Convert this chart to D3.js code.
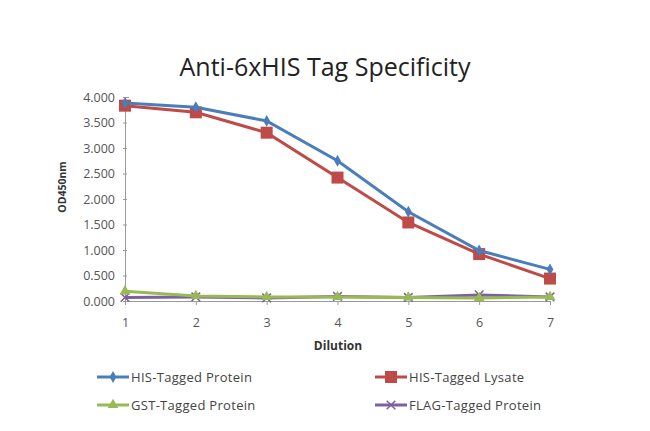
<!DOCTYPE html>
<html>
<head>
<meta charset="utf-8">
<script src="https://cdn.jsdelivr.net/npm/d3@7"></script>
<style>
  body { margin: 0; background: #fff; }
  svg { font-family: "Open Sans", "DejaVu Sans", sans-serif; }
</style>
</head>
<body>
<svg id="chart" width="650" height="431"></svg>
<script>
var dilutions = [1, 2, 3, 4, 5, 6, 7];
var hisProtein = [3.88, 3.80, 3.53, 2.75, 1.75, 0.99, 0.62];
var hisLysate = [3.83, 3.70, 3.30, 2.42, 1.54, 0.92, 0.44];
var gstProtein = [0.19, 0.10, 0.08, 0.08, 0.07, 0.06, 0.08];
var flagProtein = [0.07, 0.08, 0.06, 0.09, 0.07, 0.12, 0.08];
var yTicks = [0, 0.5, 1, 1.5, 2, 2.5, 3, 3.5, 4];

var series = [
  { name: "HIS-Tagged Protein", values: hisProtein, color: "#4a7ebb", marker: "diamond" },
  { name: "HIS-Tagged Lysate", values: hisLysate, color: "#be4b48", marker: "square" },
  { name: "GST-Tagged Protein", values: gstProtein, color: "#98b954", marker: "triangle" },
  { name: "FLAG-Tagged Protein", values: flagProtein, color: "#7d60a0", marker: "x" }
];

var svg = d3.select("#chart");
var x = d3.scaleLinear().domain([1, 7]).range([125, 550]);
var y = d3.scaleLinear().domain([0, 4]).range([301, 97]);

// title
svg.append("text")
  .attr("x", 325).attr("y", 76)
  .attr("text-anchor", "middle")
  .attr("font-size", 25)
  .attr("font-weight", 500)
  .attr("fill", "#222")
  .text("Anti-6xHIS Tag Specificity");

// y axis
var yAxis = svg.append("g")
  .attr("transform", "translate(" + x(1) + ",0)")
  .call(d3.axisLeft(y).tickValues(yTicks).tickFormat(d3.format(".3f")).tickSize(-4).tickPadding(10));
yAxis.select(".domain").attr("stroke", "#999");
yAxis.selectAll(".tick line").attr("stroke", "#999").attr("transform", "translate(-2,0)");
yAxis.selectAll("text").attr("font-size", 12.5).attr("fill", "#555").attr("font-family", "Open Sans, sans-serif");

// x axis
var xAxis = svg.append("g")
  .attr("transform", "translate(0," + y(0) + ")")
  .call(d3.axisBottom(x).tickValues(dilutions).tickFormat(d3.format("d")).tickSize(4).tickPadding(13));
xAxis.select(".domain").attr("stroke", "#999");
xAxis.selectAll(".tick line").attr("stroke", "#999");
xAxis.selectAll("text").attr("font-size", 12.5).attr("fill", "#555").attr("font-family", "Open Sans, sans-serif");

// axis titles
svg.append("text")
  .attr("x", 338).attr("y", 350)
  .attr("text-anchor", "middle")
  .attr("font-size", 12).attr("font-weight", "bold").attr("fill", "#333")
  .text("Dilution");
svg.append("text")
  .attr("transform", "translate(66,187) rotate(-90)")
  .attr("text-anchor", "middle")
  .attr("font-size", 10.5).attr("font-weight", "bold").attr("fill", "#333")
  .text("OD450nm");

function drawMarker(g, type, color, cx, cy) {
  if (type === "diamond") {
    g.append("path").attr("d", d3.symbol(d3.symbolDiamond, 40)())
      .attr("transform", "translate(" + cx + "," + cy + ")").attr("fill", color);
  } else if (type === "square") {
    g.append("rect").attr("x", cx - 6).attr("y", cy - 6).attr("width", 12).attr("height", 12).attr("fill", color);
  } else if (type === "triangle") {
    g.append("path").attr("d", d3.symbol(d3.symbolTriangle, 50)())
      .attr("transform", "translate(" + cx + "," + cy + ")").attr("fill", color);
  } else {
    g.append("path").attr("d", d3.symbol(d3.symbolTimes, 50)())
      .attr("transform", "translate(" + cx + "," + cy + ")").attr("stroke", color).attr("stroke-width", 1.5).attr("fill", "none");
  }
}

var line = d3.line().x(function(d, i) { return x(dilutions[i]); }).y(function(d) { return y(d); });

// draw in reverse order so HIS lines sit on top
series.slice().reverse().forEach(function(s) {
  var g = svg.append("g");
  g.append("path").datum(s.values)
    .attr("d", line)
    .attr("fill", "none")
    .attr("stroke", s.color)
    .attr("stroke-width", 3);
  s.values.forEach(function(v, i) {
    drawMarker(g, s.marker, s.color, x(dilutions[i]), y(v));
  });
});

// legend
var legendPos = [[97, 377], [375, 377], [97, 405], [375, 405]];
series.forEach(function(s, i) {
  var p = legendPos[i];
  var g = svg.append("g");
  g.append("line").attr("x1", p[0]).attr("x2", p[0] + 32).attr("y1", p[1]).attr("y2", p[1])
    .attr("stroke", s.color).attr("stroke-width", 3);
  drawMarker(g, s.marker, s.color, p[0] + 16, p[1]);
  g.append("text").attr("x", p[0] + 34).attr("y", p[1] + 4.5)
    .attr("font-size", 13).attr("letter-spacing", 0.3).attr("fill", "#444")
    .text(s.name);
});
</script>
</body>
</html>
